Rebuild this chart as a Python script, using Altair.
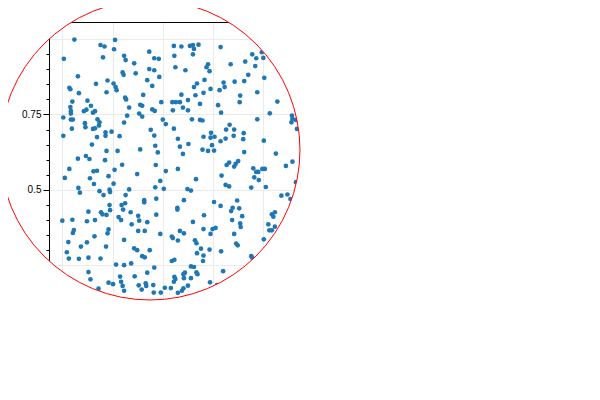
import altair as alt
import pandas as pd

# scatter values (x, y in [0, 1])
X = [
    0.024, 0.003, 0.076, 0.084, 0.105, 0.103, 0.081, 0.123, 0.126, 0.143,
    0.173, 0.183, 0.192, 0.173, 0.183, 0.193, 0.146, 0.120, 0.122, 0.031,
    0.067, 0.090, 0.102, 0.106, 0.108, 0.169, 0.179, 0.014, 0.016, 0.033,
    0.088, 0.125, 0.161, 0.222, 0.223, 0.225, 0.237, 0.254, 0.260, 0.271,
    0.262, 0.260, 0.315, 0.245, 0.290, 0.287, 0.293, 0.335, 0.364, 0.378,
    0.386, 0.397, 0.400, 0.384, 0.370, 0.402, 0.268, 0.262, 0.283, 0.321,
    0.323, 0.343, 0.362, 0.313, 0.295, 0.281, 0.265, 0.237, 0.250, 0.354,
    0.388, 0.428, 0.020, 0.016, 0.017, 0.017, 0.002, 0.017, 0.021, 0.019,
    0.002, 0.050, 0.057, 0.048, 0.043, 0.045, 0.046, 0.061, 0.065, 0.061,
    0.065, 0.070, 0.074, 0.073, 0.086, 0.086, 0.098, 0.069, 0.114, 0.059,
    0.088, 0.047, 0.054, 0.031, 0.085, 0.110, 0.119, 0.127, 0.133, 0.129,
    0.123, 0.155, 0.159, 0.153, 0.159, 0.179, 0.184, 0.197, 0.200, 0.206,
    0.176, 0.183, 0.155, 0.185, 0.190, 0.186, 0.219, 0.226, 0.234, 0.220,
    0.222, 0.230, 0.234, 0.240, 0.250, 0.274, 0.310, 0.316, 0.353, 0.413,
    0.388, 0.258, 0.274, 0.279, 0.251, 0.240, 0.281, 0.296, 0.295, 0.303,
    0.298, 0.279, 0.290, 0.302, 0.315, 0.325, 0.326, 0.333, 0.342, 0.341,
    0.361, 0.360, 0.362, 0.401, 0.425, 0.458, 0.457, 0.458, 0.456, 0.465,
    0.467, 0.014, 0.005, 0.032, 0.035, 0.000, 0.020, 0.049, 0.065, 0.052,
    0.055, 0.063, 0.062, 0.069, 0.092, 0.104, 0.102, 0.074, 0.082, 0.094,
    0.095, 0.094, 0.095, 0.077, 0.080, 0.088, 0.112, 0.117, 0.092, 0.118,
    0.125, 0.121, 0.126, 0.133, 0.136, 0.138, 0.151, 0.153, 0.169, 0.149,
    0.206, 0.195, 0.185, 0.202, 0.163, 0.163, 0.187, 0.187, 0.230, 0.229,
    0.229, 0.266, 0.249, 0.256, 0.242, 0.282, 0.260, 0.234, 0.327, 0.332,
    0.342, 0.345, 0.350, 0.317, 0.325, 0.332, 0.302, 0.315, 0.348, 0.339,
    0.336, 0.352, 0.358, 0.338, 0.354, 0.355, 0.380, 0.386, 0.390, 0.398,
    0.403, 0.382, 0.391, 0.376, 0.405, 0.445, 0.465, 0.436, 0.448, 0.454,
    0.423, 0.417, 0.420, 0.410, 0.423, 0.412, 0.417, 0.281, 0.299, 0.305,
    0.023, 0.021, 0.012, 0.009, 0.013, 0.033, 0.052, 0.037, 0.049, 0.064,
    0.076, 0.087, 0.090, 0.052, 0.056, 0.072, 0.092, 0.101, 0.107, 0.123,
    0.137, 0.123, 0.151, 0.164, 0.143, 0.149, 0.159, 0.164, 0.174, 0.195,
    0.183, 0.169, 0.144, 0.115, 0.117, 0.120, 0.123, 0.152, 0.158, 0.166,
    0.167, 0.181, 0.182, 0.196, 0.204, 0.216, 0.218, 0.220, 0.230, 0.218,
    0.223, 0.223, 0.225, 0.222, 0.230, 0.242, 0.295, 0.264, 0.267, 0.276,
    0.293, 0.268, 0.281, 0.280, 0.316, 0.342, 0.346, 0.349, 0.376, 0.378,
    0.401, 0.256, 0.262, 0.267, 0.269, 0.244, 0.241, 0.242, 0.256, 0.320,
    0.294, 0.308, 0.250, 0.241, 0.238,
]
Y = [
    0.999, 0.935, 0.981, 0.976, 0.998, 0.967, 0.940, 0.945, 0.931, 0.920,
    0.959, 0.937, 0.935, 0.901, 0.897, 0.875, 0.887, 0.890, 0.882, 0.877,
    0.852, 0.863, 0.853, 0.841, 0.831, 0.864, 0.845, 0.839, 0.834, 0.821,
    0.824, 0.806, 0.815, 0.978, 0.945, 0.907, 0.976, 0.978, 0.981, 0.982,
    0.968, 0.950, 0.974, 0.897, 0.917, 0.907, 0.894, 0.917, 0.926, 0.950,
    0.937, 0.957, 0.938, 0.911, 0.882, 0.872, 0.853, 0.841, 0.865, 0.856,
    0.841, 0.859, 0.861, 0.831, 0.835, 0.822, 0.814, 0.816, 0.798, 0.813,
    0.824, 0.793, 0.793, 0.775, 0.762, 0.753, 0.740, 0.733, 0.733, 0.703,
    0.679, 0.796, 0.779, 0.766, 0.761, 0.721, 0.708, 0.702, 0.704, 0.756,
    0.761, 0.734, 0.724, 0.713, 0.691, 0.679, 0.693, 0.675, 0.678, 0.650,
    0.629, 0.612, 0.602, 0.603, 0.598, 0.629, 0.583, 0.800, 0.773, 0.746,
    0.723, 0.782, 0.779, 0.753, 0.743, 0.767, 0.762, 0.791, 0.733, 0.718,
    0.699, 0.680, 0.634, 0.646, 0.624, 0.582, 0.791, 0.791, 0.791, 0.764,
    0.703, 0.669, 0.643, 0.773, 0.764, 0.785, 0.781, 0.756, 0.791, 0.754,
    0.734, 0.734, 0.732, 0.730, 0.652, 0.619, 0.676, 0.689, 0.673, 0.676,
    0.648, 0.633, 0.629, 0.630, 0.661, 0.670, 0.700, 0.716, 0.700, 0.679,
    0.688, 0.668, 0.625, 0.663, 0.620, 0.593, 0.746, 0.735, 0.724, 0.732,
    0.702, 0.569, 0.539, 0.506, 0.490, 0.397, 0.400, 0.395, 0.399, 0.427,
    0.538, 0.519, 0.561, 0.563, 0.545, 0.566, 0.520, 0.495, 0.482, 0.500,
    0.492, 0.449, 0.432, 0.425, 0.418, 0.416, 0.409, 0.399, 0.368, 0.449,
    0.455, 0.434, 0.482, 0.501, 0.425, 0.385, 0.413, 0.397, 0.392, 0.552,
    0.562, 0.529, 0.508, 0.503, 0.465, 0.458, 0.470, 0.417, 0.569, 0.440,
    0.434, 0.535, 0.502, 0.497, 0.465, 0.415, 0.393, 0.363, 0.582, 0.590,
    0.577, 0.586, 0.595, 0.547, 0.516, 0.511, 0.459, 0.446, 0.464, 0.440,
    0.429, 0.438, 0.412, 0.399, 0.388, 0.376, 0.571, 0.559, 0.559, 0.569,
    0.569, 0.541, 0.532, 0.507, 0.509, 0.579, 0.525, 0.480, 0.484, 0.469,
    0.425, 0.418, 0.410, 0.385, 0.377, 0.365, 0.365, 0.369, 0.369, 0.373,
    0.366, 0.356, 0.326, 0.292, 0.271, 0.270, 0.274, 0.311, 0.325, 0.345,
    0.271, 0.311, 0.355, 0.226, 0.202, 0.171, 0.191, 0.186, 0.251, 0.249,
    0.255, 0.333, 0.363, 0.363, 0.305, 0.299, 0.279, 0.275, 0.299, 0.353,
    0.241, 0.224, 0.212, 0.211, 0.194, 0.180, 0.164, 0.182, 0.168, 0.189,
    0.180, 0.183, 0.158, 0.158, 0.174, 0.173, 0.344, 0.339, 0.331, 0.263,
    0.267, 0.210, 0.203, 0.194, 0.157, 0.355, 0.353, 0.332, 0.322, 0.304,
    0.301, 0.289, 0.281, 0.263, 0.295, 0.353, 0.321, 0.315, 0.279, 0.274,
    0.335, 0.245, 0.243, 0.225, 0.219, 0.224, 0.219, 0.206, 0.206, 0.229,
    0.192, 0.183, 0.181, 0.172, 0.164,
]
assert len(X) == len(Y)

# axis tick values
Y_TICKS = [0.0, 0.05, 0.1, 0.15, 0.2, 0.25, 0.3, 0.35, 0.4, 0.45, 0.5,
           0.55, 0.6, 0.65, 0.7, 0.75, 0.8, 0.85, 0.9, 0.95, 1.0, 1.05]
X_GRID = [0.0, 0.1, 0.2, 0.3, 0.4, 0.5, 0.6, 0.7, 0.8, 0.9, 1.0]

X_DOMAIN = [-0.0265, 1.0482]
Y_DOMAIN = [-0.0396, 1.0575]

GRID = "#ebebeb"
DOT = "#1f77b4"

points = pd.DataFrame({"x": X, "y": Y})
one = pd.DataFrame({"k": [0]})

major = "abs(datum.value * 4 - round(datum.value * 4)) < 0.001"

x_axis = alt.Axis(
    orient="top", values=X_GRID, grid=True, gridColor=GRID, gridWidth=1,
    ticks=False, labels=False, domain=True, domainColor="black",
    domainWidth=1, title="",
)
y_axis = alt.Axis(
    orient="left", values=Y_TICKS, format="~g",
    labelExpr=f"{major} ? datum.label : ''",
    grid=True, gridColor=GRID, gridWidth=1,
    gridOpacity={"condition": {"test": major, "value": 1}, "value": 0},
    tickSize={"condition": {"test": major, "value": 6}, "value": 3},
    tickColor="black", tickWidth=1,
    domainColor="black", domainWidth=1,
    labelFont="Liberation Sans", labelFontSize=10, labelColor="black",
    labelPadding=2, title="",
)

dots = alt.Chart(points).mark_circle(size=22, color=DOT, opacity=1).encode(
    x=alt.X("x:Q", scale=alt.Scale(domain=X_DOMAIN, nice=False, zero=False), axis=x_axis),
    y=alt.Y("y:Q", scale=alt.Scale(domain=Y_DOMAIN, nice=False, zero=False), axis=y_axis),
)

# white mask outside the clipping circle
mask = alt.Chart(one).mark_arc(
    innerRadius=150, outerRadius=900, theta=0, theta2=6.2832,
    color="white", opacity=1, stroke="white", strokeWidth=0,
).encode(x=alt.value(101), y=alt.value(128))

ring = alt.Chart(one).mark_point(
    shape="circle", size=90000, filled=False, stroke="red",
    strokeWidth=1, opacity=1,
).encode(x=alt.value(101), y=alt.value(128))

chart = alt.layer(dots, mask, ring).properties(
    width=540, height=330,
    autosize=alt.AutoSizeParams(type="none"),
    padding={"left": 41, "top": 14, "right": 0, "bottom": 0},
).configure_view(strokeWidth=0)

chart.save("out.html", embed_options={"renderer": "svg", "actions": False})
